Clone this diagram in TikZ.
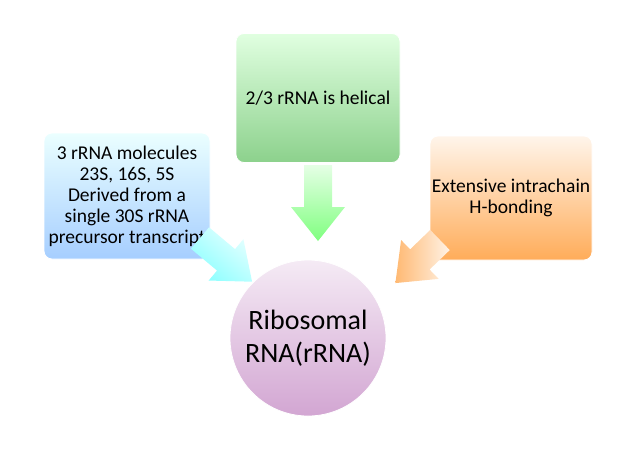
\documentclass[tikz,border=0pt]{standalone}
\usepackage{fontspec}
\setmainfont{Carlito}
\begin{document}
\begin{tikzpicture}[x=1pt,y=-1pt,
box/.style={draw=white,line width=0.8pt,rounded corners=8pt,minimum width=#1,align=center,font=\fontsize{19.5}{21}\selectfont,inner sep=1pt},
blk/.pic={\path[pic actions] (0,-14)--(#1-34,-14)--(#1-34,-27)--(#1,0)--(#1-34,27)--(#1-34,14)--(0,14)--cycle;}]
\useasboundingbox (0,0) rectangle (638,451);
\node[box=166pt,minimum height=126pt,top color=cyan!8,bottom color=cyan!45!blue!35] (l) at (127,196) {3 rRNA molecules\\23S, 16S, 5S\\Derived from a\\single 30S rRNA\\precursor transcript};
\node[box=164pt,minimum height=129pt,top color=green!12,bottom color=green!60!black!45] (t) at (318,98) {2/3 rRNA is helical};
\node[box=162pt,minimum height=124pt,top color=orange!8,bottom color=orange!65] (r) at (511,198) {Extensive intrachain\\H-bonding};
\node[circle,draw=white,line width=0.8pt,minimum size=156pt,top color=violet!8,bottom color=violet!35,align=center,font=\fontsize{28}{33}\selectfont,inner sep=0pt] (c) at (308,338) {Ribosomal\\RNA(rRNA)};
\pic[rotate=-90,top color=green!10,bottom color=green!50] at (318,165) {blk=76};
\pic[rotate=-40,left color=cyan!10,right color=cyan!45,shading angle=-40] at (200,238) {blk=68};
\pic[rotate=-136,right color=orange!10,left color=orange!55] at (440,240) {blk=62};
\end{tikzpicture}
\end{document}
